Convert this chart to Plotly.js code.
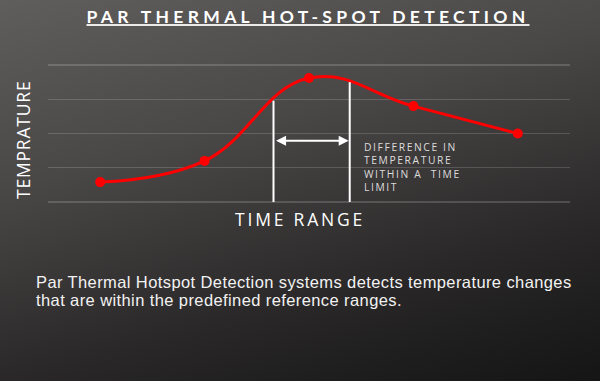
<!DOCTYPE html>
<html>
<head>
<meta charset="utf-8">
<script src="https://cdn.plot.ly/plotly-3.0.1.min.js"></script>
<style>
  html, body { margin: 0; padding: 0; }
  #chart { width: 600px; height: 381px;
    background: linear-gradient(165deg, #605d5d 0%, #4a4747 35%, #2a2828 70%, #151515 100%); }
</style>
</head>
<body>
<div id="chart"></div>
<script>
// Data
const timePoints = [0, 1, 2, 3, 4];
const temperature = [0.58, 1.2, 3.62, 2.8, 2.0];

const titleText = "PAR THERMAL HOT-SPOT DETECTION";
const yTitle = "TEMPRATURE";
const xTitle = "TIME RANGE";
const noteLines = ["DIFFERENCE IN", "TEMPERATURE", "WITHIN A  TIME", "LIMIT"];
const captionLines = [
  "Par Thermal Hotspot Detection systems detects temperature changes",
  "that are within the predefined reference ranges."
];
// Time window markers (data coords)
const windowStart = 1.66, windowEnd = 2.39;
const windowStartTop = 2.96, windowEndTop = 3.5;
const arrowLevel = 1.79;

function ls(t, px) { return '<span style="letter-spacing:' + px + 'px">' + t + '</span>'; }

const trace = {
  x: timePoints, y: temperature, type: 'scatter', mode: 'lines+markers',
  line: { color: '#ff0000', width: 3, shape: 'spline', smoothing: 1.2 },
  marker: { color: '#ff0000', size: 10 },
  hoverinfo: 'skip'
};

const layout = {
  width: 600, height: 381,
  paper_bgcolor: 'rgba(0,0,0,0)', plot_bgcolor: 'rgba(0,0,0,0)',
  margin: { l: 48, r: 30, t: 64, b: 178 },
  showlegend: false,
  title: {
    text: '<b>' + ls(titleText, 4.3) + '</b>',
    x: 308 / 600, xref: 'container', xanchor: 'center',
    y: 1 - 17 / 381, yref: 'container', yanchor: 'middle',
    font: { family: 'Lato, "Open Sans", sans-serif', size: 17.5, color: '#ffffff', weight: 900, lineposition: 'under' }
  },
  xaxis: { range: [-0.5, 4.5], showgrid: false, zeroline: false, showticklabels: false, ticks: '', showline: false, fixedrange: true },
  yaxis: { range: [-0.03, 4.03], dtick: 1, tick0: 0, showgrid: true, gridcolor: 'rgba(255,255,255,0.16)', gridwidth: 1.5,
           zeroline: false, showticklabels: false, ticks: '', showline: false, fixedrange: true },
  shapes: [
    { type: 'line', xref: 'x', yref: 'y', x0: windowStart, x1: windowStart, y0: 0, y1: windowStartTop, line: { color: '#ffffff', width: 2 } },
    { type: 'line', xref: 'x', yref: 'y', x0: windowEnd, x1: windowEnd, y0: 0, y1: windowEndTop, line: { color: '#ffffff', width: 2 } }
  ],
  annotations: [
    { xref: 'x', yref: 'y', axref: 'x', ayref: 'y', x: windowEnd - 0.01, y: arrowLevel, ax: windowStart + 0.01, ay: arrowLevel,
      text: '', showarrow: true, arrowside: 'end+start', arrowhead: 2, arrowsize: 1, arrowwidth: 2, arrowcolor: '#ffffff', standoff: 0, startstandoff: 0 },
    { xref: 'paper', yref: 'paper', x: (362 - 48) / 522, y: (203 - 166.5) / 139, xanchor: 'left', yanchor: 'middle', align: 'left',
      showarrow: false, text: noteLines.map(function (l) { return ls(l, 1.6); }).join('<br>'),
      font: { family: '"Open Sans", sans-serif', size: 10.3, color: '#dcdcdc' } },
    { xref: 'paper', yref: 'paper', x: (300 - 48) / 522, y: (203 - 219) / 139, xanchor: 'center', yanchor: 'middle',
      showarrow: false, text: ls(xTitle, 2.8), font: { family: '"Open Sans", sans-serif', size: 17.5, color: '#ffffff' } },
    { xref: 'paper', yref: 'paper', x: (23 - 48) / 522, y: (203 - 140) / 139, xanchor: 'center', yanchor: 'middle', textangle: -90,
      showarrow: false, text: ls(yTitle, 0.8), font: { family: '"Open Sans", sans-serif', size: 17.5, color: '#ffffff' } },
    { xref: 'paper', yref: 'paper', x: (34 - 48) / 522, y: (203 - 282) / 139, xanchor: 'left', yanchor: 'middle', align: 'left',
      showarrow: false, text: ls(captionLines[0], 0.4), font: { family: '"Liberation Sans", Arial, sans-serif', size: 16.5, color: '#f2f2f2' } },
    { xref: 'paper', yref: 'paper', x: (34 - 48) / 522, y: (203 - 300) / 139, xanchor: 'left', yanchor: 'middle', align: 'left',
      showarrow: false, text: ls(captionLines[1], 0.4), font: { family: '"Liberation Sans", Arial, sans-serif', size: 16.5, color: '#f2f2f2' } }
  ]
};

Plotly.newPlot('chart', [trace], layout, { displayModeBar: false, staticPlot: true });
</script>
</body>
</html>
